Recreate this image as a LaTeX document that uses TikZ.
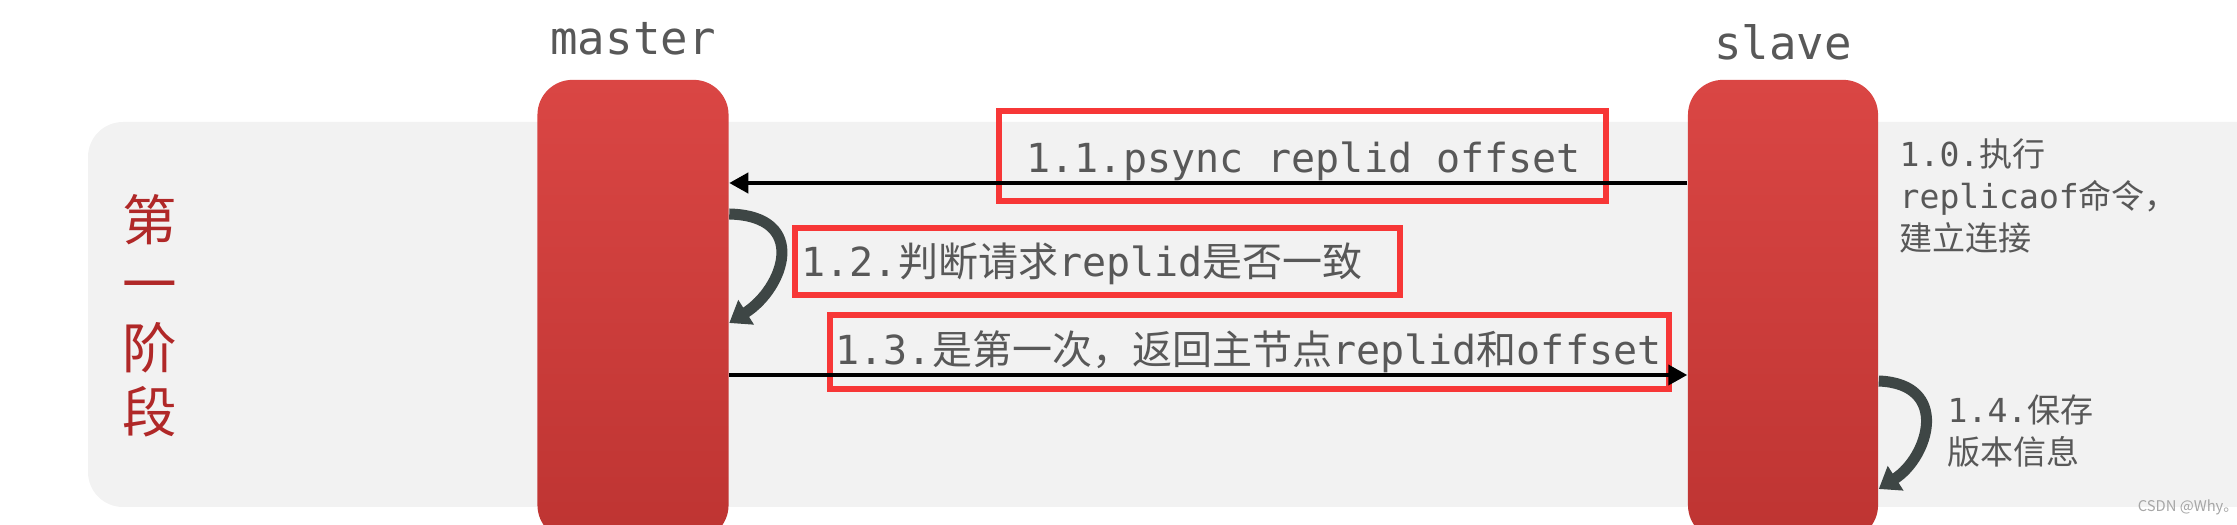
\documentclass[tikz,border=0pt]{standalone}
\usepackage{fontspec}
\setmainfont{DejaVu Sans Mono}
\newfontfamily\cjk{Noto Sans CJK SC}
\usetikzlibrary{arrows.meta,positioning}
\definecolor{bartop}{RGB}{218,70,68}
\definecolor{barbot}{RGB}{190,52,50}
\definecolor{bggray}{RGB}{242,242,242}
\definecolor{boxred}{RGB}{247,55,55}
\definecolor{txtgray}{RGB}{88,88,88}
\definecolor{stagered}{RGB}{176,40,40}
\definecolor{loopgray}{RGB}{62,70,69}
\newcommand{\zh}[1]{{\cjk #1}}

\begin{document}
\begin{tikzpicture}[x=0.01cm,y=-0.01cm,
  bar/.style={rounded corners=0.35cm, top color=bartop, bottom color=barbot, minimum width=1.91cm, minimum height=4.6cm, inner sep=0},
  redbox/.style={draw=boxred, line width=0.06cm, inner sep=0},
  msg/.style={line width=0.04cm, -{Triangle[length=0.19cm,width=0.2cm]}},
  selfloop/.style={draw=loopgray, line width=0.11cm, -{Triangle[length=0.2cm,width=0.28cm]}},
  lbl/.style={text=txtgray, inner sep=0, font=\fontsize{13}{15}\selectfont},
  note/.style={text=txtgray, inner sep=0, font=\fontsize{11.38}{13}\selectfont},
  side/.style={text=txtgray, inner sep=0, align=left, font=\fontsize{9.4}{11.95}\selectfont},
  phase/.style={text=stagered, align=center, inner sep=0, font=\cjk\fontsize{15.5}{18.2}\selectfont}]
\useasboundingbox (0,0) rectangle (2237,525);
\clip (0,0) rectangle (2237,525);
\fill[bggray, rounded corners=0.35cm] (88,122) rectangle (2300,507);

\node[phase] (st) at (150,316) {第\\一\\阶\\段};

\node[bar] (m) at (633,310) {};
\node[bar, minimum width=1.90cm] (s) at (1783,310) {};
\node[lbl, above=0.23cm of m] (ml) {master};
\node[lbl, above=0.18cm of s] (sl) {slave};

\node[redbox, minimum width=6.07cm, minimum height=0.9cm] (r1) at (1302.5,156) {};
\node[note, anchor=base west] (t1) at (1026,173) {1.1.psync replid offset};
\node[redbox, minimum width=6.05cm, minimum height=0.67cm] (r2) at (1097.5,261.5) {};
\node[note, anchor=base west] (t2) at (801,277) {1.2.\zh{判断请求}replid\zh{是否一致}};
\node[redbox, minimum width=8.39cm, minimum height=0.74cm] (r3) at (1249.5,352) {};
\node[note, anchor=base west] (t3) at (835,365) {1.3.\zh{是第一次，返回主节点}replid\zh{和}offset};

\coordinate (y1) at (0,183);
\coordinate (y3) at (0,375);
\draw[msg] (s.west |- y1) -- (m.east |- y1);
\draw[msg] (m.east |- y3) -- (s.west |- y3);

\coordinate (l1a) at (0,214);
\coordinate (l1b) at (0,323);
\draw[selfloop] (m.east |- l1a) .. controls +(80,2) and +(55,-35) .. (m.east |- l1b);
\coordinate (l2a) at (0,381);
\coordinate (l2b) at (0,489);
\draw[selfloop] (s.east |- l2a) .. controls +(72,3) and +(50,-32) .. (s.east |- l2b);

\node[side, anchor=north west] (n0) at (1899,138) {1.0.\zh{执行}\\replicaof\zh{命令，}\\\zh{建立连接}};
\node[side, anchor=north west] (n4) at (1947,394) {1.4.\zh{保存}\\\zh{版本信息}};

\node[text=gray!70, inner sep=0, font=\cjk\fontsize{4.2}{5}\selectfont] (wm) at (2188,507) {CSDN @Why。};
\end{tikzpicture}
\end{document}
